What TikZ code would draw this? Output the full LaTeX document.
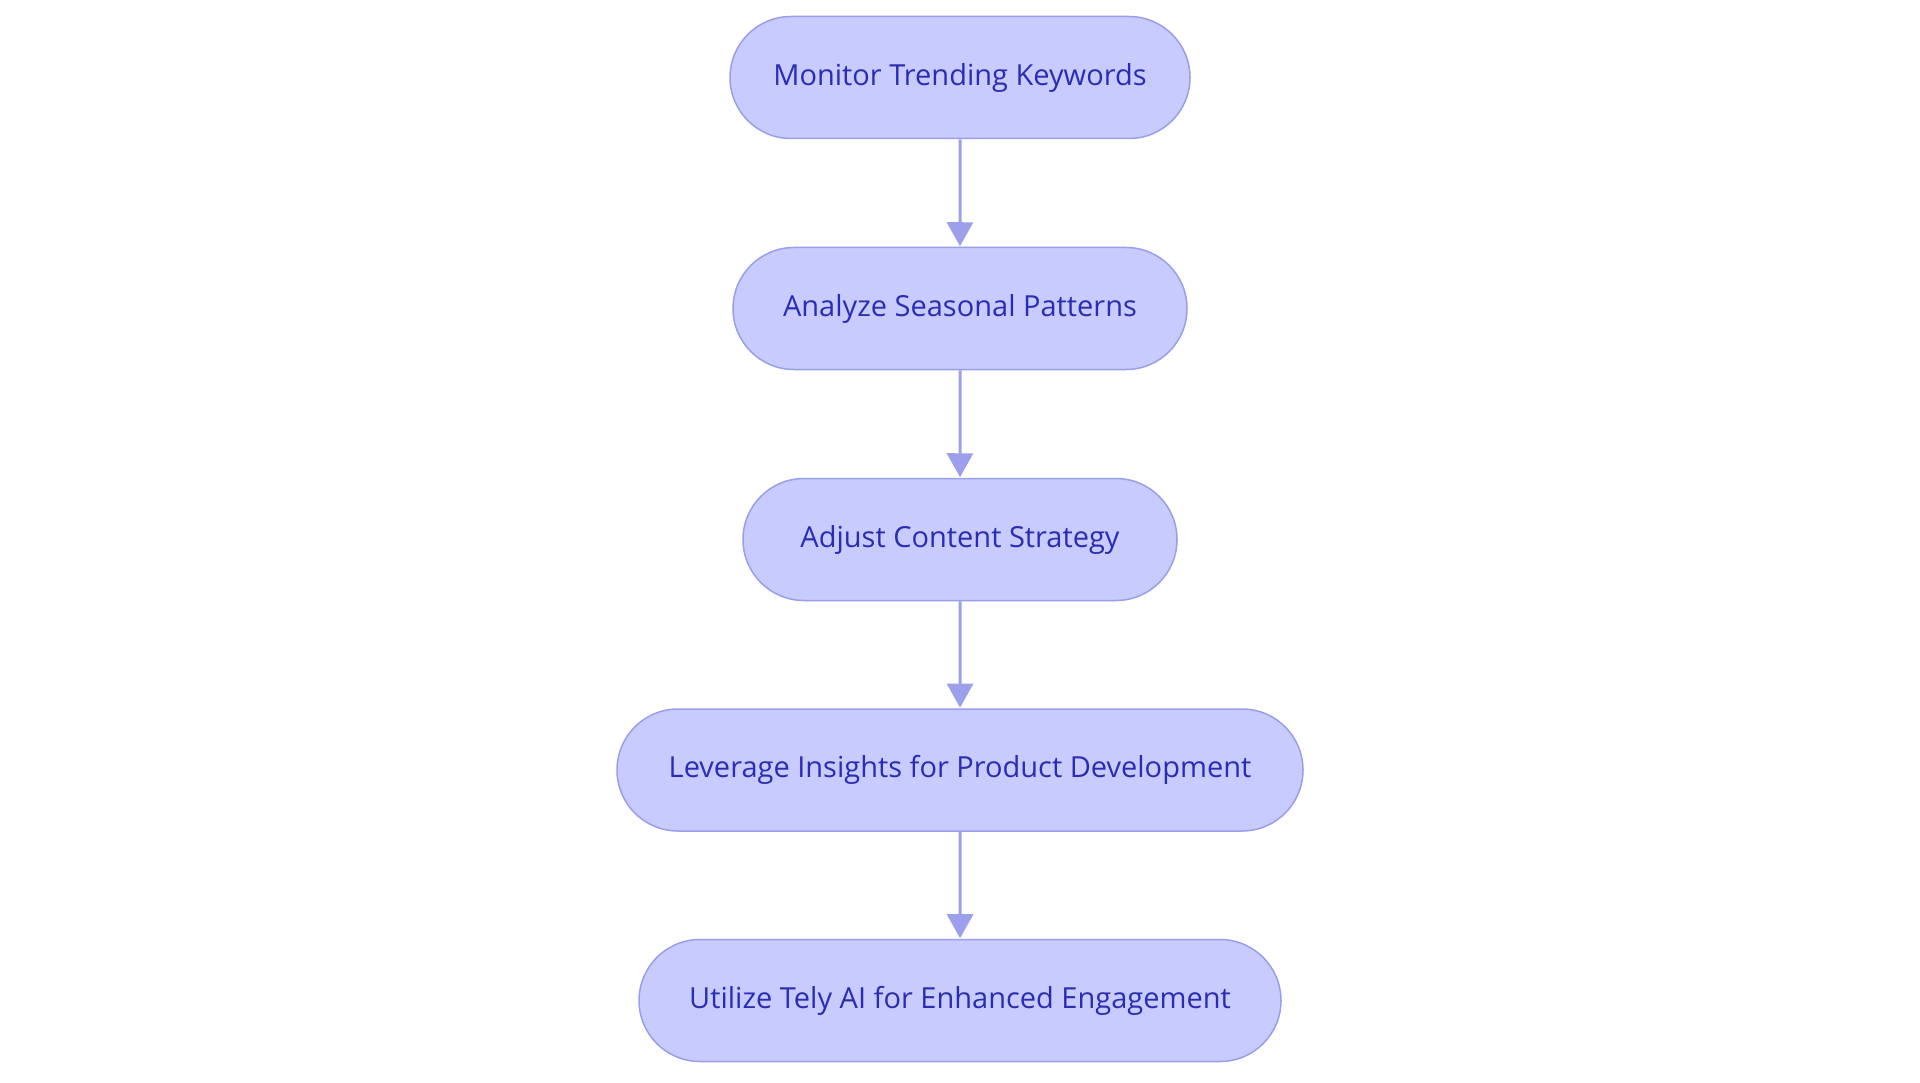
\documentclass[tikz,border=0pt]{standalone}
\usepackage{fontspec}
\setmainfont{Open Sans}
\usetikzlibrary{arrows.meta,shapes.misc}
\definecolor{boxfill}{HTML}{C8CBFD}
\definecolor{boxline}{HTML}{9A9EEA}
\definecolor{boxtext}{HTML}{2A2DB3}
\definecolor{arrowcol}{HTML}{9CA0EC}
\tikzset{
  stepbox/.style={rounded rectangle, draw=boxline, fill=boxfill, line width=1.5pt,
    text=boxtext, font=\fontsize{29}{33}\selectfont, minimum height=122pt, inner xsep=0pt},
  flowarrow/.style={draw=arrowcol, line width=3pt, -{Triangle[length=24pt,width=26pt]}, shorten >=0.5pt}
}
\begin{document}
\begin{tikzpicture}[x=1pt,y=-1pt]
\useasboundingbox (0,0) rectangle (1920,1083);
\node[stepbox, minimum width=460pt] (n1) at (960,77.5) {Monitor Trending Keywords};
\node[stepbox, minimum width=454pt] (n2) at (960,308.5) {Analyze Seasonal Patterns};
\node[stepbox, minimum width=434pt] (n3) at (960,539.5) {Adjust Content Strategy};
\node[stepbox, minimum width=686pt] (n4) at (960,770) {Leverage Insights for Product Development};
\node[stepbox, minimum width=642pt] (n5) at (960,1000.5) {Utilize Tely AI for Enhanced Engagement};
\draw[flowarrow] (n1) -- (n2);
\draw[flowarrow] (n2) -- (n3);
\draw[flowarrow] (n3) -- (n4);
\draw[flowarrow] (n4) -- (n5);
\end{tikzpicture}
\end{document}
